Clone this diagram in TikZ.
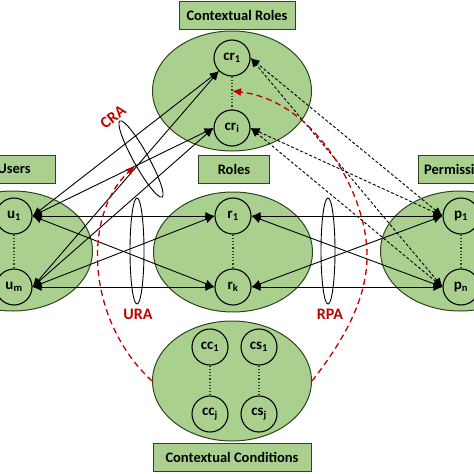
\documentclass[tikz,border=0pt]{standalone}
\usepackage{fontspec}
\setmainfont{Carlito}
\usetikzlibrary{shapes.geometric,arrows.meta}
\definecolor{setgreen}{RGB}{169,208,142}
\definecolor{setline}{RGB}{45,68,30}
\definecolor{assocred}{RGB}{192,0,0}

\begin{document}
\begin{tikzpicture}[x=1pt, y=-1pt,
			set/.style={ellipse, draw=setline, fill=setgreen, line width=1pt, minimum width=159pt, minimum height=120pt},
			elem/.style={circle, draw=black, fill=setgreen, line width=1.1pt, minimum size=36pt, inner sep=0pt, font=\fontsize{15}{17}\selectfont\bfseries},
			title/.style={draw=setline, fill=setgreen, line width=0.8pt, minimum height=28pt, inner xsep=5pt, font=\fontsize{14.5}{16}\selectfont\bfseries},
			rel/.style={ellipse, draw=black, line width=0.9pt, minimum width=14pt, minimum height=106pt, inner sep=0pt},
			rel label/.style={text=assocred, font=\fontsize{16}{18}\selectfont\bfseries},
			assign/.style={{Latex[length=9pt,width=8pt]}-{Latex[length=9pt,width=8pt]}, line width=0.9pt},
			context/.style={assocred, line width=1.3pt, dash pattern=on 6pt off 4pt, -{Latex[length=9pt,width=8pt]}}]
			\useasboundingbox (0,0) rectangle (474,474);
			
			% groups
			\node[set] (users) at (13,251) {};
			\node[set] (roles) at (233,252) {};
			\node[set] (perms) at (460,251) {};
			\node[set] (ctxroles) at (232,91) {};
			\node[set] (ctxconds) at (232,381) {};
			
			% titles
			\node[title, minimum width=116pt] (ctxrolestitle) at (237,15) {Contextual Roles};
			\node[title, minimum width=82pt] (userstitle) at (14,169) {Users};
			\node[title, minimum width=71pt] (rolestitle) at (234,169) {Roles};
			\node[title, minimum width=83pt] (permstitle) at (460,169) {Permissions};
			\node[title, minimum width=158pt] (ctxcondstitle) at (232,457) {Contextual Conditions};
			
			% elements
			\node[elem] (u1) at (14,216) {u\textsubscript{1}};
			\node[elem] (um) at (14,287) {u\textsubscript{m}};
			\node[elem] (r1) at (233,216) {r\textsubscript{1}};
			\node[elem] (rk) at (233,287) {r\textsubscript{k}};
			\node[elem] (p1) at (461,216) {p\textsubscript{1}};
			\node[elem] (pn) at (461,287) {p\textsubscript{n}};
			\node[elem] (cr1) at (232,58) {cr\textsubscript{1}};
			\node[elem] (cri) at (232,128) {cr\textsubscript{i}};
			\node[elem] (cc1) at (210,347) {cc\textsubscript{1}};
			\node[elem] (ccj) at (210,414) {cc\textsubscript{j}};
			\node[elem] (cs1) at (259,347) {cs\textsubscript{1}};
			\node[elem] (csj) at (259,414) {cs\textsubscript{j}};
			\foreach \a/\b in {u1/um, r1/rk, p1/pn, cr1/cri, cc1/ccj, cs1/csj}{
			  \draw[setline, dotted, line width=1.2pt] (\a) -- (\b);
			}
			
			% assignments
			\foreach \a in {u1,um}{
			  \foreach \b in {r1,rk}{
			      \draw[assign] (\a.east) -- (\b.west);
			  }
			  \draw[assign] (\a.east) -- (cr1.south west);
			  \draw[assign] (\a.east) -- (cri.west);
			}
			\foreach \a in {r1,rk}{
			  \foreach \b in {p1,pn}{
			      \draw[assign] (\a.east) -- (\b.west);
			  }}
			\foreach \a in {p1,pn}{
			  \foreach \b in {cr1,cri}{
			      \draw[assign, dash pattern=on 3pt off 2pt] (\a.west) -- (\b.east);
			  }}
			
			% assignment relations
			\node[rel] (ura) at (137,251) {};
			\node[rel] (rpa) at (328,251) {};
			\node[rel, minimum width=15pt, minimum height=87pt, rotate=29] (cra) at (141,159) {};
			\node[rel label] (uralabel) at (138,314) {URA};
			\node[rel label] (rpalabel) at (330,314) {RPA};
			\node[rel label, rotate=38] (cralabel) at (113,117) {CRA};
			
			% context
			\coordinate (cradot) at (135,166);
			\draw[context] (ctxconds.west) .. controls (86,320) and (82,215) .. (cradot);
			\draw[context] (ctxconds.east) .. controls (352,330) and (372,285) .. (366,240)
			  .. controls (360,185) and (312,100) .. (ctxroles.center);
		\end{tikzpicture}
\end{document}
